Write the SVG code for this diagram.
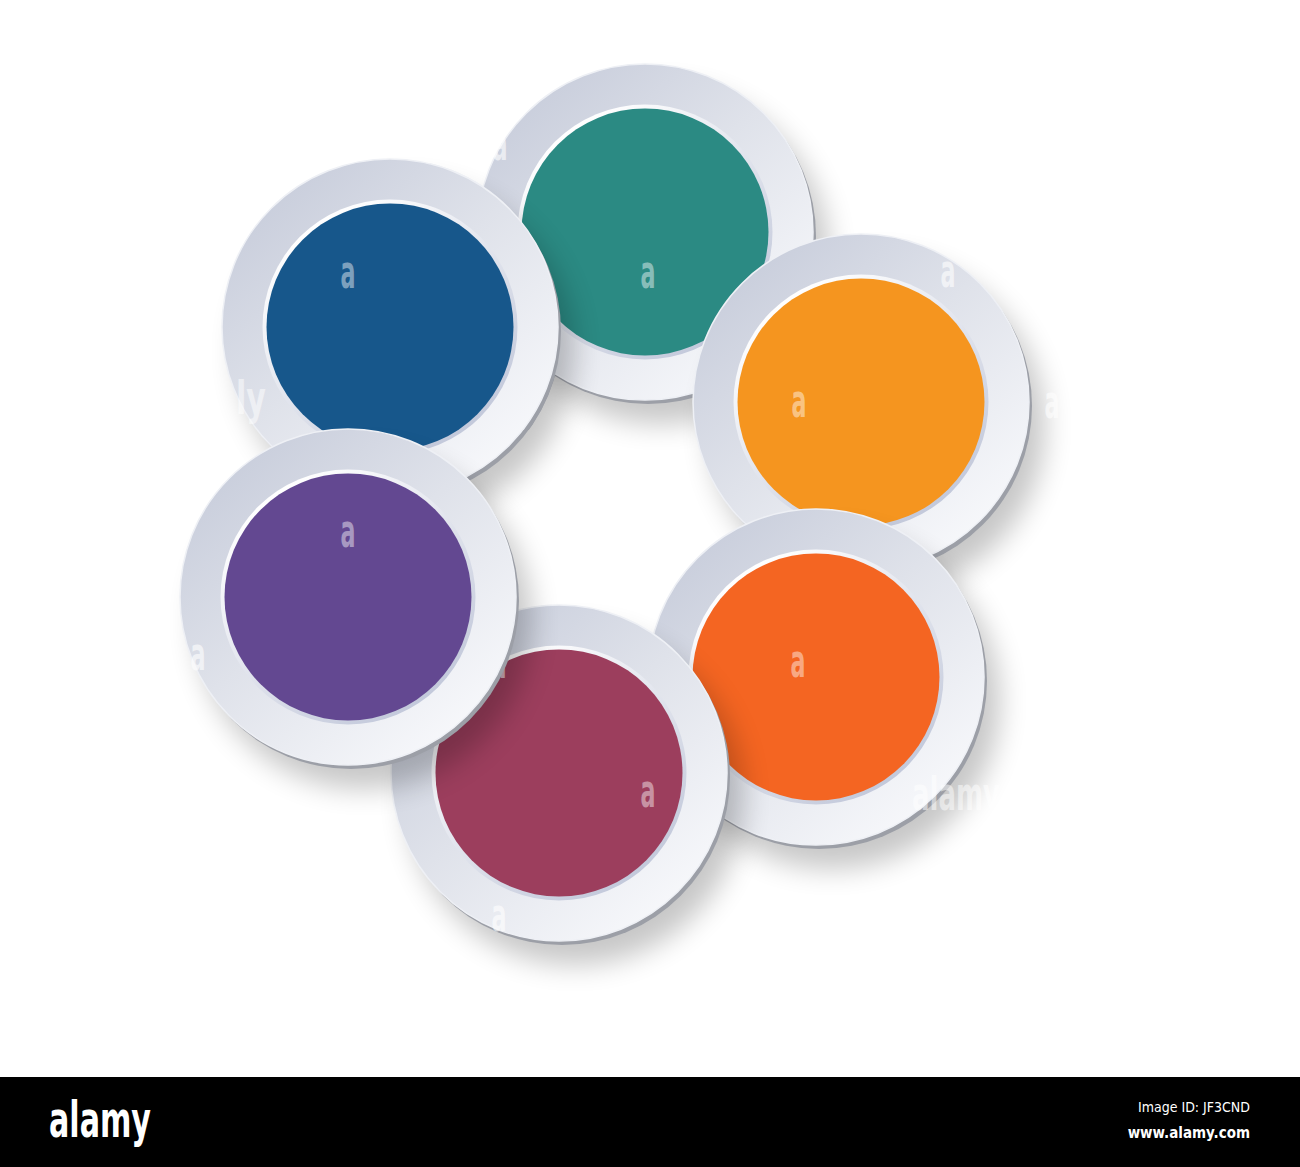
<svg xmlns="http://www.w3.org/2000/svg" xmlns:xlink="http://www.w3.org/1999/xlink" width="1300" height="1167" viewBox="0 0 1300 1167">
  <style>
    .wm { font-family: "DejaVu Sans Condensed", "DejaVu Sans", sans-serif; font-weight: bold; font-size: 46px; text-anchor: middle; fill: #ffffff; fill-opacity: 0.45; }
    .wmr { font-family: "DejaVu Sans Condensed", "DejaVu Sans", sans-serif; font-weight: bold; font-size: 46px; text-anchor: middle; fill: #ffffff; fill-opacity: 0.6; }
    .wmf { font-family: "DejaVu Sans Condensed", "DejaVu Sans", sans-serif; font-weight: bold; font-size: 46px; fill: #ffffff; fill-opacity: 0.5; }
    .foot { font-family: "DejaVu Sans Condensed", "DejaVu Sans", sans-serif; fill: #ffffff; }
  </style>
  <defs>
    <linearGradient id="ringGrad" x1="0.15" y1="0.1" x2="0.85" y2="0.9">
      <stop offset="0" stop-color="#c9cedc"/>
      <stop offset="0.45" stop-color="#dfe2ea"/>
      <stop offset="1" stop-color="#f7f8fb"/>
    </linearGradient>
    <linearGradient id="rimGrad" x1="0.2" y1="0.1" x2="0.8" y2="0.9">
      <stop offset="0" stop-color="#ffffff"/>
      <stop offset="1" stop-color="#c3c9db"/>
    </linearGradient>
    <filter id="soft" x="-40%" y="-40%" width="180%" height="180%">
      <feGaussianBlur stdDeviation="14"/>
    </filter>
    <circle id="plateShadow" cx="16" cy="24" r="168" fill="#000000" opacity="0.22" filter="url(#soft)"/>
    <g id="plateBody">
      <circle cx="3" cy="4" r="168" fill="#9c9fa7"/>
      <circle r="168" fill="url(#ringGrad)" stroke="#eef0f5" stroke-width="1.5"/>
      <circle r="127.5" fill="url(#rimGrad)"/>
    </g>
    <clipPath id="clipTeal">
      <circle cx="645" cy="232" r="168"/>
      <circle cx="648" cy="236" r="168"/>
    </clipPath>
    <clipPath id="clipBlueTop">
      <rect x="430" y="60" width="200" height="370"/>
    </clipPath>
  </defs>

  <rect width="1300" height="1167" fill="#ffffff"/>

  <g id="node-blue">
    <use id="blue-shadow" href="#plateShadow" transform="translate(390 327)"/>
    <g id="blue-body">
      <use href="#plateBody" transform="translate(390 327)"/>
      <circle cx="390" cy="327" r="123.5" fill="#17578b"/>
      <text class="wm" x="348" y="288" textLength="15" lengthAdjust="spacingAndGlyphs">a</text>
      <text class="wmf" x="236" y="414" textLength="30" lengthAdjust="spacingAndGlyphs" fill-opacity="0.35">ly</text>
    </g>
  </g>

  <g id="node-teal">
    <use href="#plateShadow" transform="translate(645 232)"/>
    <use href="#plateBody" transform="translate(645 232)"/>
    <circle cx="645" cy="232" r="123.5" fill="#2b8a83"/>
    <text class="wm" x="648" y="288" textLength="15" lengthAdjust="spacingAndGlyphs">a</text>
    <text class="wmr" x="500" y="160" textLength="15" lengthAdjust="spacingAndGlyphs" fill-opacity="0.35">a</text>
  </g>

  <g id="node-orange">
    <use href="#plateShadow" transform="translate(861 402)"/>
    <use href="#plateBody" transform="translate(861 402)"/>
    <circle cx="861" cy="402" r="123.5" fill="#f5951f"/>
    <text class="wm" x="799" y="417" textLength="15" lengthAdjust="spacingAndGlyphs">a</text>
    <text class="wmr" x="948" y="287" textLength="15" lengthAdjust="spacingAndGlyphs">a</text>
    <text class="wmr" x="1052" y="418" textLength="15" lengthAdjust="spacingAndGlyphs">a</text>
  </g>

  <g id="node-redorange">
    <use href="#plateShadow" transform="translate(816 677)"/>
    <use href="#plateBody" transform="translate(816 677)"/>
    <circle cx="816" cy="677" r="123.5" fill="#f46522"/>
    <text class="wm" x="798" y="677" textLength="15" lengthAdjust="spacingAndGlyphs">a</text>
    <text class="wmf" x="912" y="810" textLength="88" lengthAdjust="spacingAndGlyphs" fill-opacity="0.55">alamy</text>
  </g>

  <g id="node-maroon">
    <use href="#plateShadow" transform="translate(559 773)"/>
    <use href="#plateBody" transform="translate(559 773)"/>
    <circle cx="559" cy="773" r="123.5" fill="#9c3e5d"/>
    <text class="wm" x="648" y="807" textLength="15" lengthAdjust="spacingAndGlyphs">a</text>
    <text class="wmr" x="499" y="678" textLength="15" lengthAdjust="spacingAndGlyphs">a</text>
    <text class="wmr" x="499" y="931" textLength="15" lengthAdjust="spacingAndGlyphs">a</text>
  </g>

  <g id="node-purple">
    <use href="#plateShadow" transform="translate(348 597)"/>
    <use href="#plateBody" transform="translate(348 597)"/>
    <circle cx="348" cy="597" r="123.5" fill="#634891"/>
    <text class="wm" x="348" y="547" textLength="15" lengthAdjust="spacingAndGlyphs">a</text>
    <text class="wmr" x="198" y="670" textLength="15" lengthAdjust="spacingAndGlyphs" fill-opacity="0.35">a</text>
  </g>

  <g id="overlap-fix">
    <use href="#blue-shadow" clip-path="url(#clipTeal)"/>
    <use href="#blue-body" clip-path="url(#clipBlueTop)"/>
  </g>

  <g id="connectors"></g>

  <g id="footer">
    <rect x="0" y="1077" width="1300" height="90" fill="#000000"/>
    <text class="foot" x="49" y="1137" font-size="50" font-weight="bold" textLength="102" lengthAdjust="spacingAndGlyphs">alamy</text>
    <text class="foot" x="1250" y="1112" font-size="14" text-anchor="end">Image ID: JF3CND</text>
    <text class="foot" x="1250" y="1138" font-size="15" font-weight="bold" text-anchor="end">www.alamy.com</text>
  </g>
</svg>
